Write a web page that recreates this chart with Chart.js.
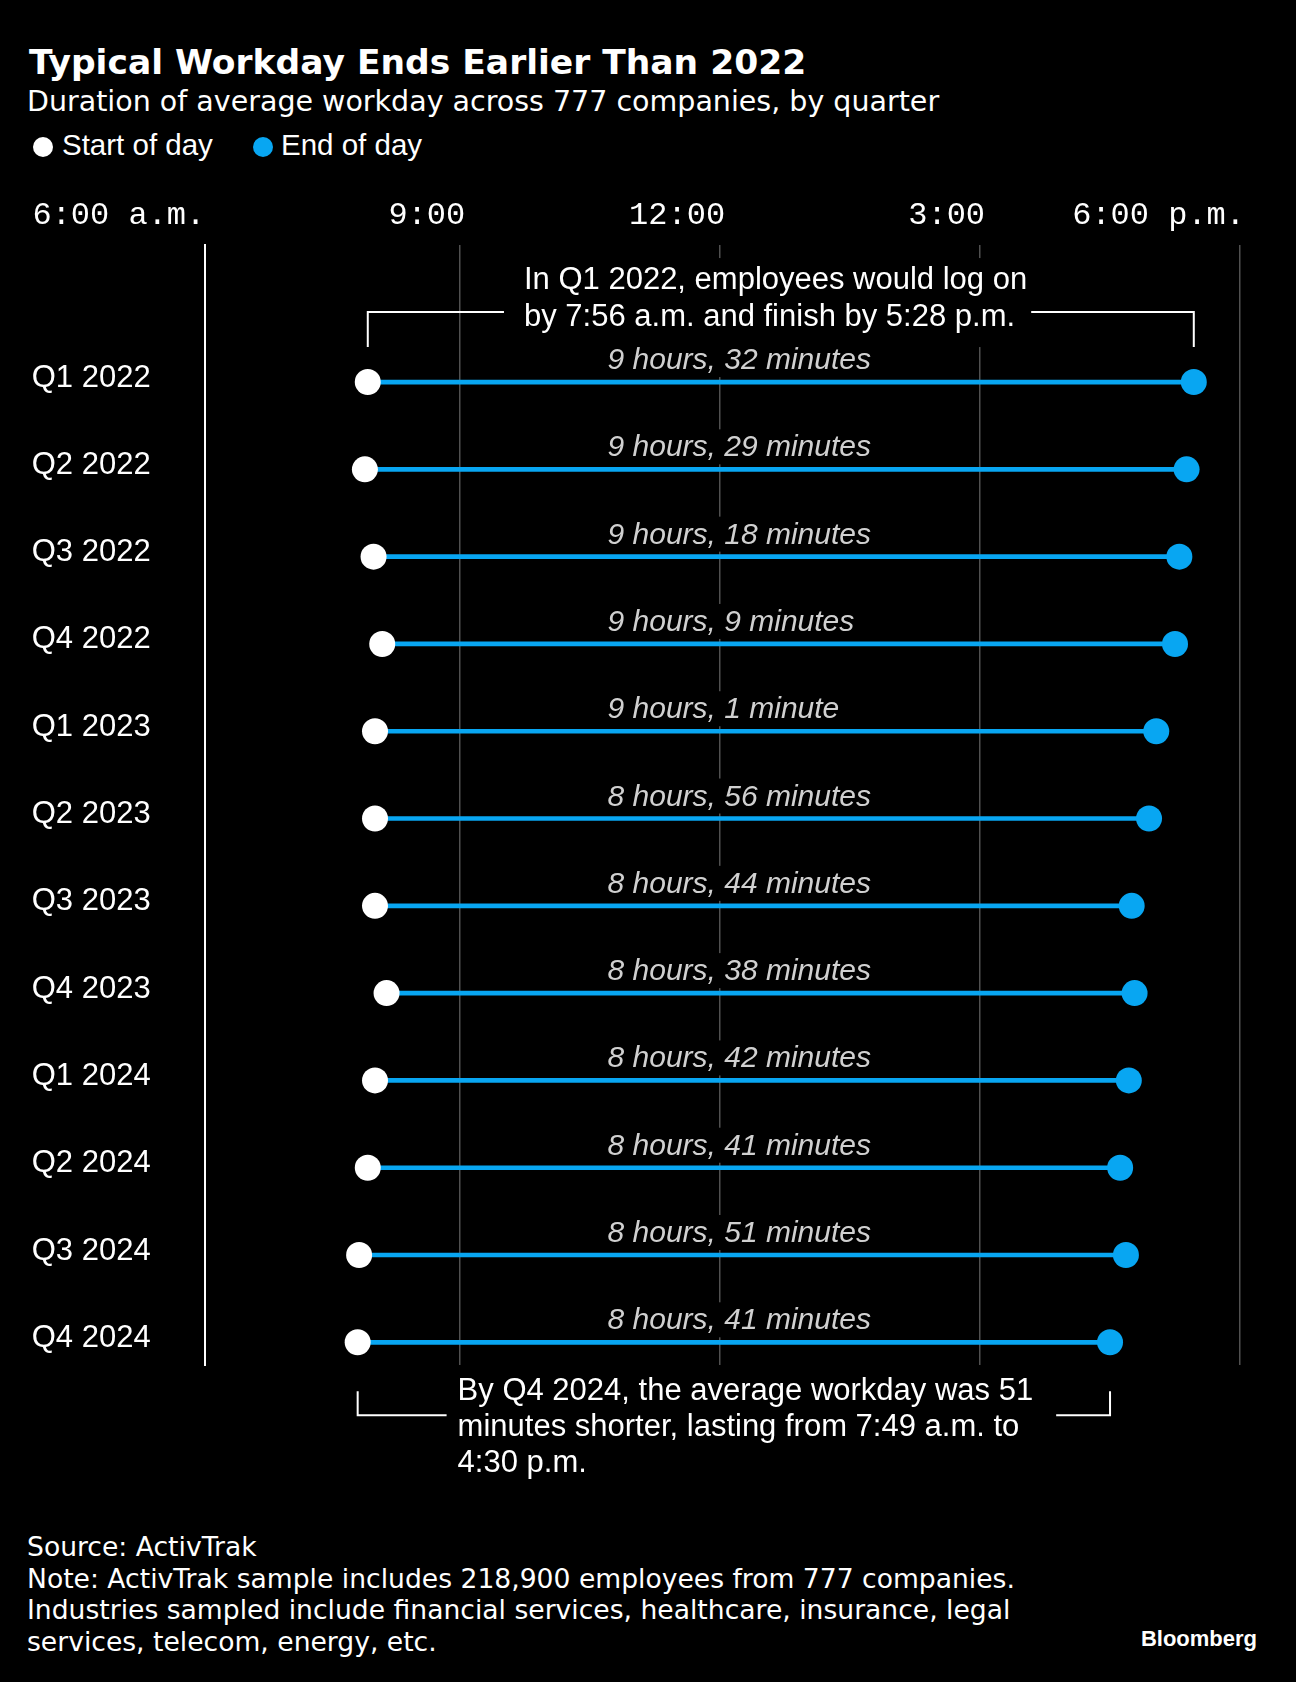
<!DOCTYPE html>
<html lang="en">
<head>
  <meta charset="UTF-8" />
  <title>Typical Workday Ends Earlier Than 2022</title>
  <script src="https://cdn.jsdelivr.net/npm/chart.js"></script>
  <style>
    body { margin: 0; background: #000; width: 1296px; height: 1682px; overflow: hidden; position: relative; color: #fff; }
    .t { position: absolute; white-space: nowrap; }
    #titulo { left: 29px; top: 42px; font: bold 34.5px/40px "DejaVu Sans"; }
    #subtitulo { left: 27px; top: 85px; font: 28.5px/34px "DejaVu Sans"; }
    .leg { top: 128px; font: 29.5px/34px "Liberation Sans"; }
    .ponto { position: absolute; width: 20px; height: 20px; border-radius: 50%; top: 137px; }
    #rodape { left: 27px; top: 1531px; font: 26.6px/31.5px "DejaVu Sans"; }
    #marca { right: 39px; top: 1624px; font: bold 22px/30px "Liberation Sans"; }
    #grafico { position: absolute; left: 0; top: 170px; width: 1296px; height: 1330px; }
  </style>
</head>
<body>

  <div class="t" id="titulo">Typical Workday Ends Earlier Than 2022</div>
  <div class="t" id="subtitulo">Duration of average workday across 777 companies, by quarter</div>

  <span class="ponto" style="left:33px; background:#fff"></span>
  <div class="t leg" style="left:62px">Start of day</div>
  <span class="ponto" style="left:253px; background:#08a6f2"></span>
  <div class="t leg" style="left:281px">End of day</div>

  <div id="grafico"><canvas id="graficoDia"></canvas></div>

  <div class="t" id="rodape">Source: ActivTrak<br>Note: ActivTrak sample includes 218,900 employees from 777 companies.<br>Industries sampled include financial services, healthcare, insurance, legal<br>services, telecom, energy, etc.</div>
  <div class="t" id="marca">Bloomberg</div>

  <script>
    const QUARTERS = ['Q1 2022', 'Q2 2022', 'Q3 2022', 'Q4 2022', 'Q1 2023', 'Q2 2023',
                      'Q3 2023', 'Q4 2023', 'Q1 2024', 'Q2 2024', 'Q3 2024', 'Q4 2024'];
    const START_TIMES = ['7:56', '7:54', '8:00', '8:06', '8:01', '8:01', '8:01', '8:09', '8:01', '7:56', '7:50', '7:49'];
    const END_TIMES = ['17:28', '17:23', '17:18', '17:15', '17:02', '16:57', '16:45', '16:47', '16:43', '16:37', '16:41', '16:30'];
    const DURATIONS = ['9 hours, 32 minutes', '9 hours, 29 minutes', '9 hours, 18 minutes', '9 hours, 9 minutes',
                       '9 hours, 1 minute', '8 hours, 56 minutes', '8 hours, 44 minutes', '8 hours, 38 minutes',
                       '8 hours, 42 minutes', '8 hours, 41 minutes', '8 hours, 51 minutes', '8 hours, 41 minutes'];
    const TICK_HOURS = [6, 9, 12, 15, 18];
    const TICK_LABELS = ['6:00 a.m.', '9:00', '12:00', '3:00', '6:00 p.m.'];
    const NOTE_TOP = ['In Q1 2022, employees would log on', 'by 7:56 a.m. and finish by 5:28 p.m.'];
    const NOTE_BOTTOM = ['By Q4 2024, the average workday was 51', 'minutes shorter, lasting from 7:49 a.m. to', '4:30 p.m.'];

    const BLUE = '#08a6f2';
    // the white axis line sits a little after 6:00
    const AXIS_START = 6.05;
    // where the text blocks start, in hours on the x axis
    const DURATION_AT = 10.70;
    const NOTE_TOP_AT = 9.736;
    const NOTE_BOTTOM_AT = 8.97;

    function emHoras(s) {
      const [h, m] = s.split(':').map(Number);
      return h + m / 60;
    }
    const inicio = START_TIMES.map(emHoras);
    const fim = END_TIMES.map(emHoras);

    const notas = {
      id: 'notas',
      beforeDatasetsDraw(chart) {
        const { ctx, scales: { x, y } } = chart;
        ctx.save();
        ctx.textAlign = 'left';
        ctx.textBaseline = 'alphabetic';

        // duration over each line, on a black box that cuts the grid
        ctx.font = 'italic 30px "Liberation Sans"';
        const lx = x.getPixelForValue(DURATION_AT);
        DURATIONS.forEach((txt, i) => {
          const py = y.getPixelForValue(i);
          const w = ctx.measureText(txt).width;
          ctx.fillStyle = '#000';
          ctx.fillRect(lx - 3, py - 40, w + 6, 35);
          ctx.fillStyle = '#d0d0d0';
          ctx.fillText(txt, lx, py - 13);
        });

        ctx.font = '31px "Liberation Sans"';
        ctx.strokeStyle = '#fff';
        ctx.lineWidth = 2;

        // top note, Q1 2022
        const y0 = y.getPixelForValue(0);
        const tx = x.getPixelForValue(NOTE_TOP_AT);
        const wTop = Math.max(...NOTE_TOP.map(l => ctx.measureText(l).width));
        ctx.fillStyle = '#000';
        ctx.fillRect(tx - 4, y0 - 124, wTop + 8, 89);
        ctx.fillStyle = '#fff';
        NOTE_TOP.forEach((l, k) => ctx.fillText(l, tx, y0 - 93 + k * 36.5));
        const a0 = x.getPixelForValue(inicio[0]);
        const b0 = x.getPixelForValue(fim[0]);
        ctx.beginPath();
        ctx.moveTo(a0, y0 - 35); ctx.lineTo(a0, y0 - 70); ctx.lineTo(tx - 20, y0 - 70);
        ctx.moveTo(tx + wTop + 4, y0 - 70); ctx.lineTo(b0, y0 - 70); ctx.lineTo(b0, y0 - 35);
        ctx.stroke();

        // bottom note, Q4 2024
        const n = QUARTERS.length - 1;
        const yn = y.getPixelForValue(n);
        const bx = x.getPixelForValue(NOTE_BOTTOM_AT);
        const wBot = Math.max(...NOTE_BOTTOM.map(l => ctx.measureText(l).width));
        NOTE_BOTTOM.forEach((l, k) => ctx.fillText(l, bx, yn + 58 + k * 36));
        const an = x.getPixelForValue(inicio[n]);
        const bn = x.getPixelForValue(fim[n]);
        ctx.beginPath();
        ctx.moveTo(an, yn + 49); ctx.lineTo(an, yn + 73); ctx.lineTo(bx - 11, yn + 73);
        ctx.moveTo(bx + wBot + 23, yn + 73); ctx.lineTo(bn, yn + 73); ctx.lineTo(bn, yn + 49);
        ctx.stroke();
        ctx.restore();
      }
    };

    const ctx = document.getElementById('graficoDia');
    new Chart(ctx, {
      type: 'bar',
      data: {
        datasets: [
          {
            type: 'bar',
            label: 'Workday',
            data: QUARTERS.map((q, i) => ({ y: i, x: [inicio[i], fim[i]] })),
            backgroundColor: BLUE,
            borderWidth: 0,
            barThickness: 4,
            order: 3
          },
          {
            type: 'scatter',
            label: 'Start of day',
            data: QUARTERS.map((q, i) => ({ x: inicio[i], y: i })),
            pointRadius: 13,
            pointBackgroundColor: '#fff',
            pointBorderWidth: 0,
            showLine: false,
            order: 1
          },
          {
            type: 'scatter',
            label: 'End of day',
            data: QUARTERS.map((q, i) => ({ x: fim[i], y: i })),
            pointRadius: 13,
            pointBackgroundColor: BLUE,
            pointBorderWidth: 0,
            showLine: false,
            order: 1
          }
        ]
      },
      options: {
        indexAxis: 'y',
        responsive: true,
        maintainAspectRatio: false,
        animation: false,
        layout: { padding: { left: 31.7, right: 56, top: 0, bottom: 135 } },
        plugins: { legend: { display: false }, tooltip: { enabled: false } },
        scales: {
          x: {
            type: 'linear',
            position: 'top',
            min: AXIS_START,
            max: 18,
            afterFit: s => { s.height = 75; },
            afterBuildTicks: s => { s.ticks = TICK_HOURS.map(v => ({ value: v })); },
            ticks: {
              callback: v => TICK_LABELS[TICK_HOURS.indexOf(v)],
              color: '#fff',
              font: { family: 'Liberation Mono', size: 32 },
              align: 'end',
              labelOffset: 5,
              padding: 10,
              maxRotation: 0,
              autoSkip: false
            },
            grid: {
              color: c => (c.tick && c.tick.value === 6) ? 'rgba(0,0,0,0)' : '#505050',
              lineWidth: 1.5,
              drawTicks: false
            },
            border: { display: false }
          },
          y: {
            type: 'linear',
            reverse: true,
            offset: false,
            min: -1.57,
            max: 11.26,
            afterFit: s => { s.width = 172.9; },
            afterBuildTicks: s => { s.ticks = QUARTERS.map((q, i) => ({ value: i })); },
            ticks: {
              callback: v => QUARTERS[v],
              color: '#fff',
              font: { family: 'Liberation Sans', size: 31 },
              crossAlign: 'far',
              padding: 0,
              labelOffset: -4,
              autoSkip: false
            },
            grid: { drawOnChartArea: false, drawTicks: false, color: 'rgba(0,0,0,0)' },
            border: { display: true, color: '#fff', width: 2 }
          }
        }
      },
      plugins: [notas]
    });
  </script>

</body>
</html>
